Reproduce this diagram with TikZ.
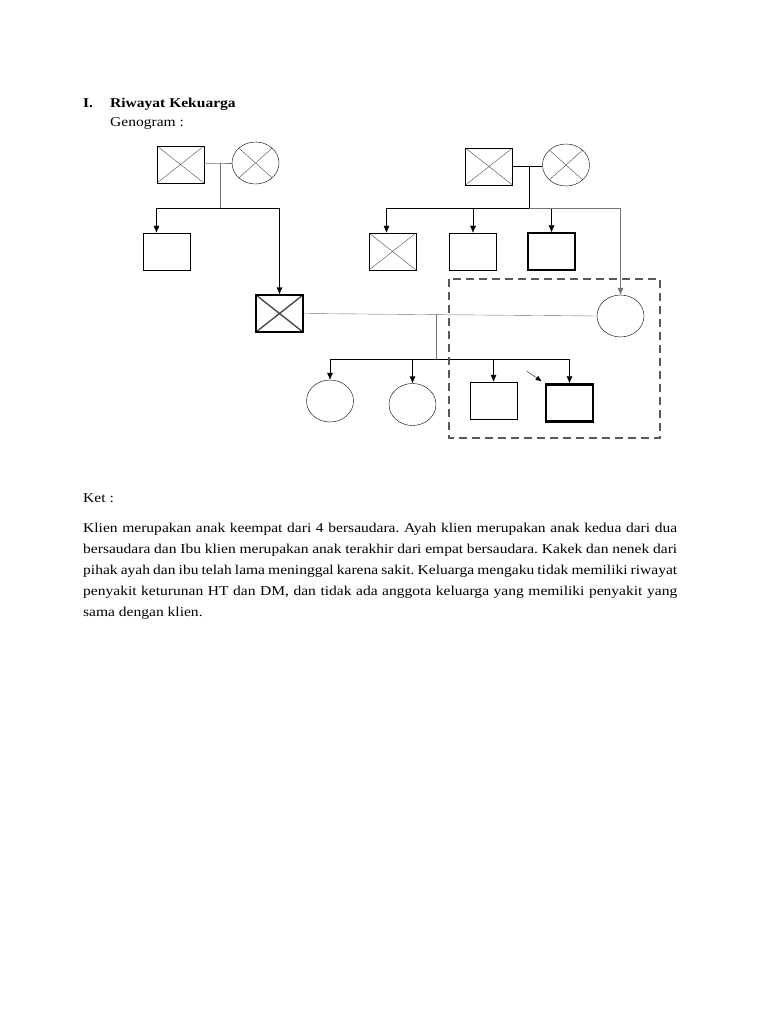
\documentclass[tikz,border=0pt]{standalone}
\usepackage{fontspec}
\setmainfont[FakeStretch=1.15]{Liberation Serif}
\usetikzlibrary{shapes.geometric,arrows.meta}
\frenchspacing

\begin{document}
\begin{tikzpicture}
  [x=1pt,y=-1pt,every node/.style={inner sep=0pt},
   male/.style={rectangle,draw,minimum width=47pt,minimum height=37pt},
   female/.style={ellipse,draw,minimum width=47pt,minimum height=42pt},
   dead/.style={path picture={\draw[black!70]
     (path picture bounding box.north west) -- (path picture bounding box.south east)
     (path picture bounding box.north east) -- (path picture bounding box.south west);}},
   kid/.style={-{Latex[length=7pt,width=6pt]}},
   tie/.style={draw=black!55},
   teks/.style={font=\fontsize{13.5}{21}\selectfont,anchor=base west}]
  \useasboundingbox[fill=white] (0,0) rectangle (768,1024);

  % judul
  \node[teks,font=\fontsize{13.5}{21}\selectfont\bfseries] (nomor) at (83,108) {I.};
  \node[teks,font=\fontsize{13.5}{21}\selectfont\bfseries] (judul) at (110,108) {Riwayat Kekuarga};
  \node[teks] (geno) at (110,127) {Genogram :};

  % keluarga ayah
  \node[male,dead] (kakekA) at (180.5,164.5) {};
  \node[female,dead] (nenekA) at (255.5,163) {};
  \node[male] (pakde) at (166.5,251.5) {};
  \node[male,dead,line width=1.4pt] (ayah) at (279.5,313.5) {};

  % keluarga ibu
  \node[male,dead] (kakekB) at (489,166.5) {};
  \node[female,dead] (nenekB) at (566,165) {};
  \node[male,dead] (om1) at (392.5,251.5) {};
  \node[male] (om2) at (473,251.5) {};
  \node[male,line width=1.4pt] (om3) at (551.5,251.5) {};
  \node[female] (ibu) at (620.5,316) {};

  % anak
  \node[female] (anak1) at (330,401) {};
  \node[female] (anak2) at (412.5,404.5) {};
  \node[male] (anak3) at (493.5,400.5) {};
  \node[male,line width=2.5pt] (klien) at (569.5,403) {};

  \coordinate (jA) at (220,163);
  \coordinate (sA) at (220,208);
  \coordinate (jB) at (529,166);
  \coordinate (sB) at (529,208);
  \coordinate (jC) at (436,315);
  \coordinate (sC) at (436,359);

  \draw[tie] (kakekA.east |- jA) -- (jA) -- (nenekA.west |- jA);
  \draw[tie] (jA) -- (sA);
  \draw[kid] (sA) -| ([xshift=-10pt]pakde.north);
  \draw[kid] (sA) -| (ayah.north);

  \draw (kakekB.east |- jB) -- (nenekB.west |- jB);
  \draw (jB) -- (sB);
  \draw[kid] (sB) -| ([xshift=-6pt]om1.north);
  \draw[kid] (sB) -| (om2.north);
  \draw[kid] (sB) -| (om3.north);
  \draw[kid,black!55] (sB) -| (ibu.north);

  \draw[tie] (ayah.east) -- (ibu.west);
  \draw[tie] (jC) -- (sC);
  \foreach \anak in {anak1,anak2,anak3,klien}
    \draw[kid] (sC) -| (\anak.north);
  \draw[-{Latex[length=6pt,width=5pt]}] ([shift={(-18,-12)}]klien.north west) -- ([shift={(-3,-2)}]klien.north west);

  % serumah
  \draw[black!65,line width=1.5pt,dash pattern=on 8pt off 5pt] (449,279) rectangle (660,438);

  % keterangan
  \node[teks] (ket) at (83,502) {Ket :};
  \node[teks,anchor=north west,text width=594pt,align=justify] (isi) at (83,523)
    {\hyphenpenalty=10000
     Klien merupakan anak keempat dari 4 bersaudara. Ayah klien merupakan anak kedua dari dua\linebreak
     bersaudara dan Ibu klien merupakan anak terakhir dari empat bersaudara. Kakek dan nenek dari\linebreak
     pihak ayah dan ibu telah lama meninggal karena sakit. Keluarga mengaku tidak memiliki riwayat\linebreak
     penyakit keturunan HT dan DM, dan tidak ada anggota keluarga yang memiliki penyakit yang\linebreak
     sama dengan klien.};
\end{tikzpicture}
\end{document}
